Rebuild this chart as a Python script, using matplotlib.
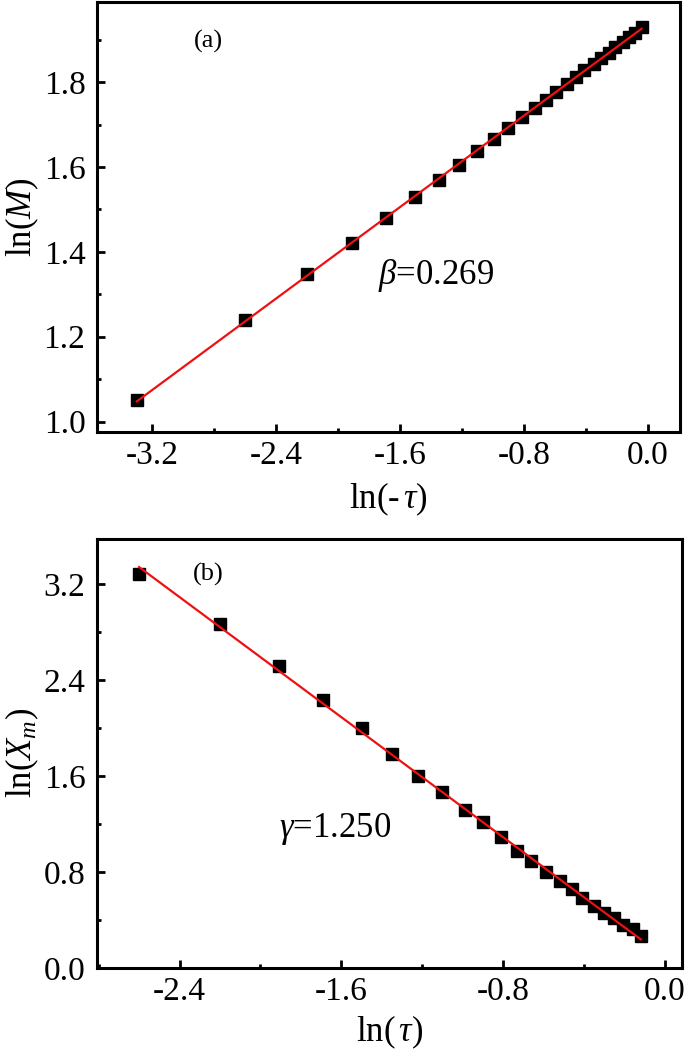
import numpy as np
import matplotlib
matplotlib.use("Agg")
import matplotlib.pyplot as plt
from matplotlib.ticker import MultipleLocator

# ---------------- data ----------------
# panel (a): ln(M) vs ln(-tau)
ln_neg_tau = [-3.30, -2.60, -2.20, -1.91, -1.69, -1.50, -1.35, -1.22, -1.10, -0.99,
              -0.90, -0.81, -0.73, -0.66, -0.59, -0.52, -0.46, -0.41, -0.35, -0.30,
              -0.25, -0.21, -0.16, -0.12, -0.08, -0.04]
ln_M = [1.050, 1.240, 1.348, 1.420, 1.480, 1.529, 1.570, 1.606, 1.638, 1.667,
        1.693, 1.717, 1.739, 1.759, 1.778, 1.796, 1.813, 1.828, 1.843, 1.857,
        1.870, 1.882, 1.894, 1.906, 1.917, 1.930]
beta_label = r"$\beta$=0.269"

# panel (b): ln(Xm) vs ln(tau)
ln_tau = [-2.60, -2.20, -1.91, -1.69, -1.50, -1.35, -1.22, -1.10, -0.99, -0.90,
          -0.81, -0.73, -0.66, -0.59, -0.52, -0.46, -0.41, -0.35, -0.30, -0.25,
          -0.21, -0.16, -0.12]
ln_Xm = [3.284, 2.865, 2.516, 2.237, 2.003, 1.780, 1.598, 1.465, 1.317, 1.213,
         1.093, 0.976, 0.892, 0.803, 0.725, 0.655, 0.586, 0.516, 0.460, 0.413,
         0.362, 0.321, 0.270]
gamma_label = r"$\gamma$=1.250"

xticks_a = [-3.2, -2.4, -1.6, -0.8, 0.0]
yticks_a = [1.0, 1.2, 1.4, 1.6, 1.8]
xticks_b = [-2.4, -1.6, -0.8, 0.0]
yticks_b = [0.0, 0.8, 1.6, 2.4, 3.2]

# ---------------- style ----------------
plt.rcParams['font.family'] = ['Liberation Serif', 'DejaVu Serif']
plt.rcParams['mathtext.fontset'] = 'custom'
plt.rcParams['mathtext.rm'] = 'Liberation Serif'
plt.rcParams['mathtext.it'] = 'Liberation Serif:italic'
plt.rcParams['mathtext.bf'] = 'Liberation Serif:bold'

fig = plt.figure(figsize=(6.85, 10.53), dpi=100)
ax1 = fig.add_axes([0.141, 0.590, 0.852, 0.408])
ax2 = fig.add_axes([0.141, 0.0807, 0.8546, 0.4077])

tick_fs = 24
label_fs = 25


def style(ax, xt, yt, xminor, yminor):
    for s in ax.spines.values():
        s.set_linewidth(2.2)
    ax.set_xticks(xt)
    ax.set_yticks(yt)
    ax.set_xticklabels([f"{v:.1f}" for v in xt])
    ax.set_yticklabels([f"{v:.1f}" for v in yt])
    ax.xaxis.set_minor_locator(MultipleLocator(xminor))
    ax.yaxis.set_minor_locator(MultipleLocator(yminor))
    ax.tick_params(which='both', direction='in', top=False, right=False,
                   labelsize=tick_fs, width=2.0)
    ax.tick_params(which='major', length=5.8)
    ax.tick_params(which='minor', length=2.6)
    ax.tick_params(axis='x', pad=6)
    ax.tick_params(axis='y', pad=8)


def fit_line(ax, x, y):
    x = np.asarray(x)
    p = np.polyfit(x, np.asarray(y), 1)
    xs = np.array([x.min(), x.max()])
    ax.plot(xs, np.polyval(p, xs), color='#ee1111', lw=1.6, zorder=3)


# panel (a)
ax1.plot(ln_neg_tau, ln_M, 's', color='black', ms=8, zorder=2)
fit_line(ax1, ln_neg_tau, ln_M)
ax1.set_xlim(-3.56, 0.21)
ax1.set_ylim(0.976, 1.989)
style(ax1, xticks_a, yticks_a, 0.4, 0.1)
ax1.set_xlabel(r"ln(-$\,\tau$)", fontsize=label_fs, labelpad=7)
ax1.set_ylabel(r"ln($M$)", fontsize=label_fs, labelpad=2)
ax1.text(-2.84, 1.896, "(a)", fontsize=19, ha='center', va='center')
ax1.text(-1.745, 1.345, beta_label, fontsize=25, ha='left', va='center')

# panel (b)
ax2.plot(ln_tau, ln_Xm, 's', color='black', ms=8, zorder=2)
fit_line(ax2, ln_tau, ln_Xm)
ax2.set_xlim(-2.81, 0.084)
ax2.set_ylim(0.0, 3.577)
style(ax2, xticks_b, yticks_b, 0.4, 0.4)
ax2.set_xlabel(r"ln($\,\tau$)", fontsize=label_fs, labelpad=5)
ax2.set_ylabel(r"ln($X_m$)", fontsize=label_fs, labelpad=2)
ax2.text(-2.257, 3.28, "(b)", fontsize=19, ha='center', va='center')
ax2.text(-1.906, 1.156, gamma_label, fontsize=25, ha='left', va='center')

fig.savefig("out.png", dpi=100)
